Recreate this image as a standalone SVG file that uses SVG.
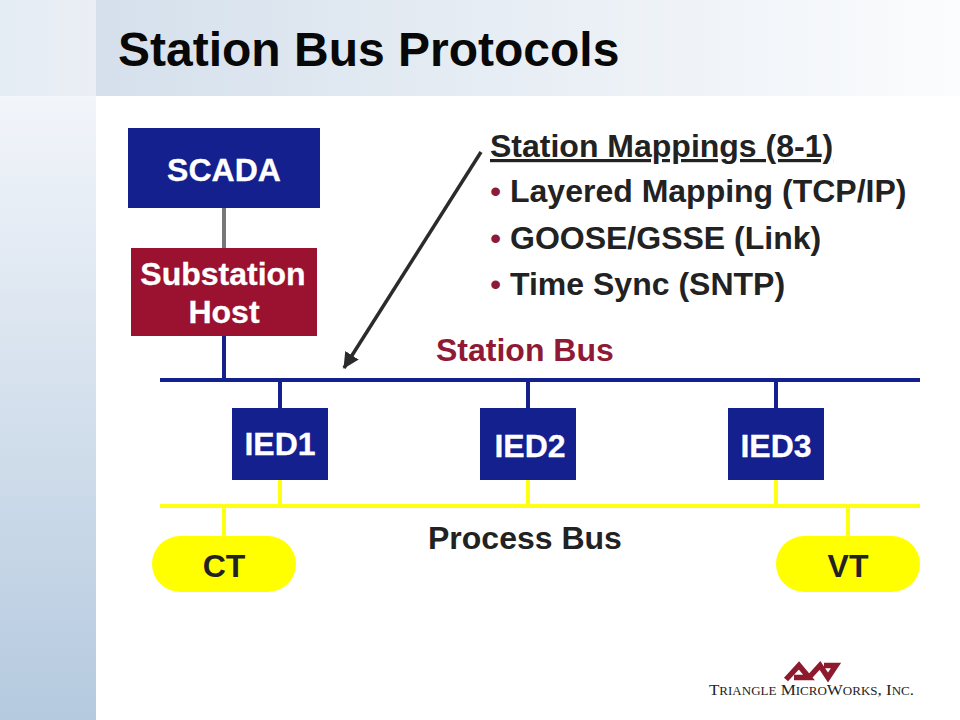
<svg xmlns="http://www.w3.org/2000/svg" width="960" height="720" viewBox="0 0 960 720">
<style>
text{font-family:"Liberation Sans",Arial,sans-serif;font-weight:700}
.w{fill:#fff;font-size:32px;text-anchor:middle;stroke:#fff;stroke-width:.3px}
.k{fill:#222;font-size:32px}
.n{fill:#15208f}
.b{stroke:#15208f;stroke-width:4;fill:none}
.y{stroke:#ffff14;stroke-width:4;fill:none}
.d{fill:#9b1230}
.u{fill:#8e1a3a;font-weight:400}
.s{font-size:11.500px}
</style>
<defs>
<linearGradient id="top" x1="0" x2="1" y1="0" y2="0"><stop offset="0" stop-color="#d5e0ec"/><stop offset="1" stop-color="#fbfcfd"/></linearGradient>
<linearGradient id="left" x1="0" x2="0" y1="0" y2="1"><stop offset="0" stop-color="#f2f5fa"/><stop offset="1" stop-color="#b5cadf"/></linearGradient>
<linearGradient id="corner" x1="0" x2="1" y1="0" y2="0"><stop offset="0" stop-color="#e4ecf4"/><stop offset="1" stop-color="#ebeff4"/></linearGradient>
<marker id="ah" markerWidth="18" markerHeight="18" refX="15" refY="8" orient="auto" markerUnits="userSpaceOnUse"><path d="M0 0L16 8L0 16z" fill="#2b2b2b"/></marker>
</defs>
<rect width="960" height="720" fill="#fff"/>
<rect x="96" width="864" height="96" fill="url(#top)"/>
<rect width="96" height="96" fill="url(#corner)"/>
<rect y="96" width="96" height="624" fill="url(#left)"/>
<text x="118" y="66" font-size="48" fill="#080808">Station Bus Protocols</text>
<g id="connectors">
<path d="M224 208V248" stroke="#777" stroke-width="4" fill="none"/>
<path class="b" d="M224 336V380M160 380H920M280 380V408M528 380V408M776 380V408"/>
<path class="y" d="M160 506H920M280 480V506M528 480V506M776 480V506M224 506V536M848 506V536"/>
<path d="M481 152L344 368" stroke="#2b2b2b" stroke-width="3.500" fill="none" marker-end="url(#ah)"/>
</g>
<g id="scada"><rect class="n" x="128" y="128" width="192" height="80"/><text class="w" x="224" y="181">SCADA</text></g>
<g id="host"><rect class="d" x="131" y="248" width="186" height="88"/><text class="w" x="223" y="285">Substation</text><text class="w" x="224" y="323">Host</text></g>
<g id="ied1"><rect class="n" x="232" y="408" width="96" height="72"/><text class="w" x="280" y="455">IED1</text></g>
<g id="ied2"><rect class="n" x="480" y="408" width="96" height="72"/><text class="w" x="530" y="457">IED2</text></g>
<g id="ied3"><rect class="n" x="728" y="408" width="96" height="72"/><text class="w" x="776" y="457">IED3</text></g>
<g id="ct"><rect x="152" y="536" width="144" height="56" rx="28" fill="#ffff00"/><text class="k" x="224" y="577" text-anchor="middle">CT</text></g>
<g id="vt"><rect x="776" y="536" width="144" height="56" rx="28" fill="#ffff00"/><text class="k" x="848" y="577" text-anchor="middle">VT</text></g>
<g id="labels">
<text class="k" x="490" y="157" text-decoration="underline">Station Mappings (8-1)</text>
<text class="k" x="490" y="202"><tspan class="u">•</tspan><tspan x="510">Layered Mapping (TCP/IP)</tspan></text>
<text class="k" x="490" y="249"><tspan class="u">•</tspan><tspan x="510">GOOSE/GSSE (Link)</tspan></text>
<text class="k" x="490" y="295"><tspan class="u">•</tspan><tspan x="510">Time Sync (SNTP)</tspan></text>
<text x="436" y="361" font-size="32" fill="#8e1a36">Station Bus</text>
<text class="k" x="428" y="549">Process Bus</text>
</g>
<g id="logo">
<path d="M786 679.500L799 665.500L809 677.500H794M809 677.500L820 665.500L828 677.500L836 665.500H824" fill="none" stroke="#8e1a2e" stroke-width="5.500" stroke-linejoin="miter"/>
<text x="709" y="695" font-size="15" fill="#222" textLength="205" lengthAdjust="spacingAndGlyphs" style="font-family:'Liberation Serif',serif;font-weight:400">T<tspan class="s">RIANGLE</tspan> M<tspan class="s">ICRO</tspan>W<tspan class="s">ORKS</tspan>, I<tspan class="s">NC</tspan>.</text>
</g>
</svg>
